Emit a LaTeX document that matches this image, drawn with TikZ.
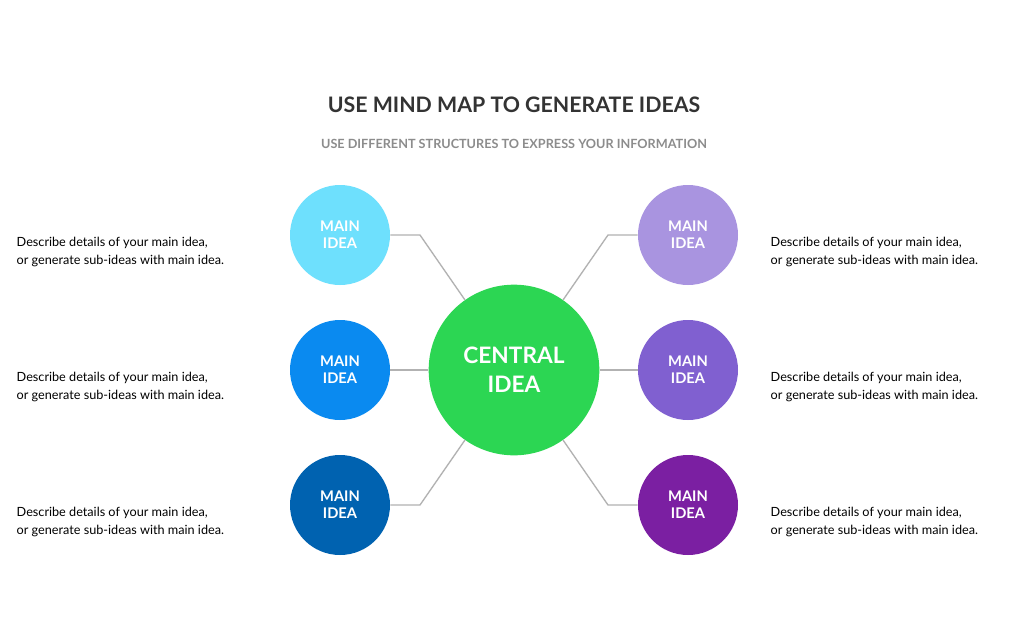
\documentclass[tikz,border=0pt]{standalone}
\usepackage{fontspec}
\setmainfont{Lato}
\begin{document}
\begin{tikzpicture}[x=0.75pt,y=-0.75pt,
  mainc/.style={circle,minimum size=75pt,inner sep=0pt,text=white,font=\fontsize{11}{13}\selectfont\bfseries,align=center},
  desc/.style={anchor=west,align=left,font=\fontsize{9.5}{13.5}\selectfont,text=black},
  conn/.style={draw=gray!60,line width=1pt}]
\useasboundingbox[fill=white] (0,0) rectangle (1029,636);
\node[font=\fontsize{16}{18}\selectfont\bfseries,text=black!80] (title) at (514,105) {USE MIND MAP TO GENERATE IDEAS};
\node[font=\fontsize{9.5}{11}\selectfont\bfseries,text=black!45] (sub) at (514,144) {USE DIFFERENT STRUCTURES TO EXPRESS YOUR INFORMATION};
\node[circle,minimum size=128pt,inner sep=0pt,fill=green!70!black!60!green,fill={rgb,255:red,44;green,214;blue,83},text=white,font=\fontsize{17}{22}\selectfont\bfseries,align=center] (c) at (514,370) {CENTRAL\\IDEA};
\node[mainc,fill={rgb,255:red,110;green,224;blue,253}] (l1) at (340,235) {MAIN\\IDEA};
\node[mainc,fill={rgb,255:red,10;green,138;blue,240}] (l2) at (340,370) {MAIN\\IDEA};
\node[mainc,fill={rgb,255:red,0;green,98;blue,176}] (l3) at (340,505) {MAIN\\IDEA};
\node[mainc,fill={rgb,255:red,169;green,148;blue,224}] (r1) at (688,235) {MAIN\\IDEA};
\node[mainc,fill={rgb,255:red,128;green,96;blue,208}] (r2) at (688,370) {MAIN\\IDEA};
\node[mainc,fill={rgb,255:red,123;green,31;blue,162}] (r3) at (688,505) {MAIN\\IDEA};
\coordinate (a1) at (420,235); \coordinate (a3) at (420,505);
\coordinate (b1) at (608,235); \coordinate (b3) at (608,505);
\draw[conn] (l1.east) -- (a1) -- (c.125);
\draw[conn] (l2.east) -- (c.west);
\draw[conn] (l3.east) -- (a3) -- (c.235);
\draw[conn] (r1.west) -- (b1) -- (c.55);
\draw[conn] (r2.west) -- (c.east);
\draw[conn] (r3.west) -- (b3) -- (c.-55);
\foreach \n/\x/\y in {dl1/12/252,dl2/12/387,dl3/12/522,dr1/766/252,dr2/766/387,dr3/766/522}
  \node[desc] (\n) at (\x,\y) {Describe details of your main idea,\\or generate sub-ideas with main idea.};
\end{tikzpicture}
\end{document}
